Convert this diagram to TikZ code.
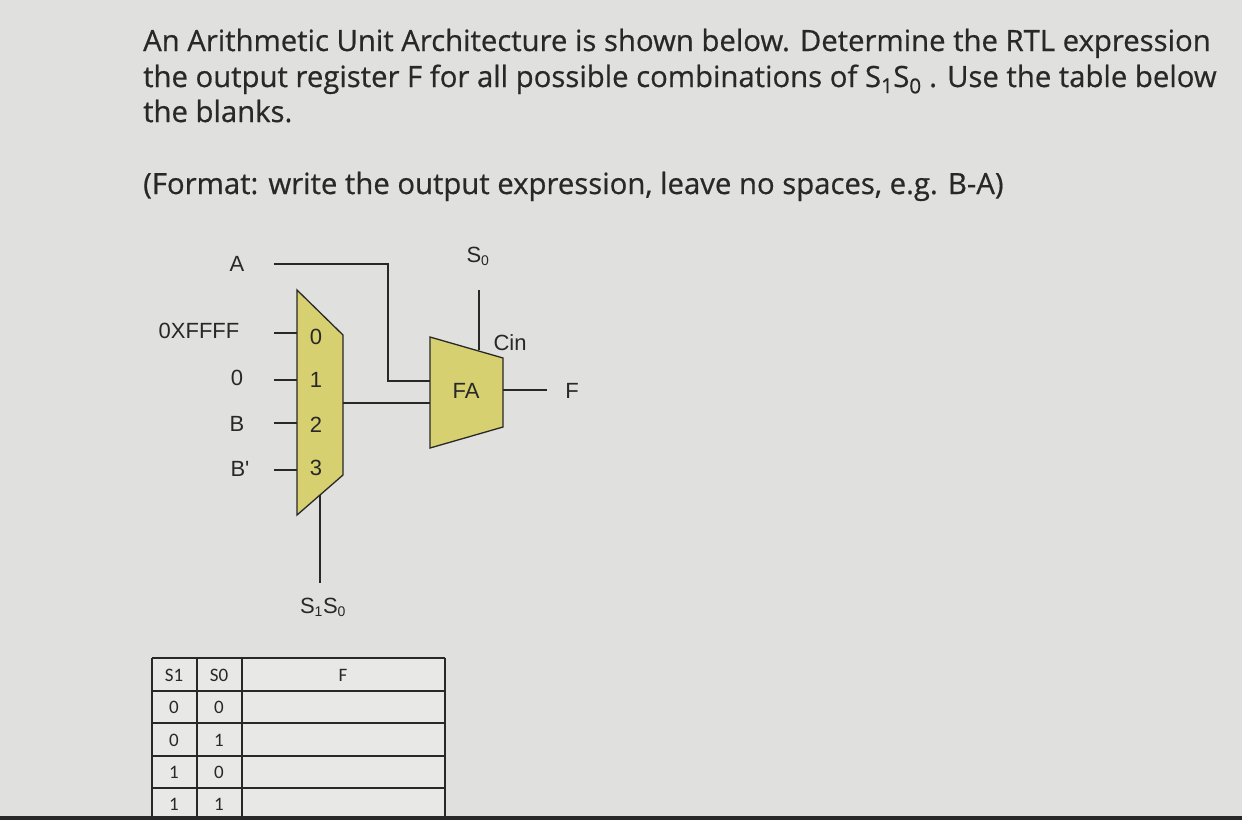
\documentclass[tikz,border=0pt]{standalone}
\usepackage{fontspec}
\setmainfont{Open Sans}[FakeBold=0.6]
\newfontfamily\arialf{Liberation Sans}
\newfontfamily\calf{Carlito}
\definecolor{bg}{RGB}{224,224,222}
\definecolor{ylw}{RGB}{214,208,112}
\definecolor{ink}{RGB}{40,40,40}
\begin{document}
\begin{tikzpicture}[x=1pt,y=-1pt,
  wire/.style={draw=ink,line width=1.3pt},
  lbl/.style={font=\arialf\fontsize{22}{24}\selectfont,text=ink,inner sep=0pt},
  qtext/.style={font=\fontsize{29.3}{32}\selectfont,text=ink,anchor=base west,inner sep=0pt},
  tcell/.style={font=\calf\fontsize{19}{21}\selectfont,text=ink,inner sep=0pt}]
\useasboundingbox (0,0) rectangle (1242,820);
\clip (0,0) rectangle (1242,820);
\fill[bg] (0,0) rectangle (1242,820);
\node[qtext] (q1) at (143,51) {An Arithmetic Unit Architecture is shown below. Determine the RTL expression};
\node[qtext] (q2) at (143,87) {the output register F for all possible combinations of S\textsubscript{1}S\textsubscript{0} . Use the table below};
\node[qtext] (q3) at (143,122) {the blanks.};
\node[qtext] (q4) at (143,194) {(Format: write the output expression, leave no spaces, e.g. B-A)};
% mux
\filldraw[fill=ylw,draw=ink,line width=1.3pt] (297,290) -- (343,335) -- (343,475) -- (297,515) -- cycle;
\filldraw[fill=ylw,draw=ink,line width=1.3pt] (430,337) -- (503,358) -- (503,427) -- (430,448) -- cycle;
\node[lbl] (fa) at (466,391) {FA};
\node[lbl] (cin) at (510,343) {Cin};
\foreach \n/\y in {0/337,1/380,2/425,3/468}{\node[lbl] (mn\n) at (316,\y) {\n};}
\node[lbl] (la) at (237,264) {A};
\node[lbl] (lff) at (199,331) {0XFFFF};
\node[lbl] (l0) at (237,378) {0};
\node[lbl] (lb) at (237,424) {B};
\node[lbl] (lbp) at (240,469) {B'};
\node[lbl] (ls0) at (478,256) {S\textsubscript{\fontsize{14}{14}\selectfont 0}};
\node[lbl] (lsel) at (323,607) {S\textsubscript{\fontsize{14}{14}\selectfont 1}S\textsubscript{\fontsize{14}{14}\selectfont 0}};
\node[lbl] (lf) at (572,391) {F};
\draw[wire] (274,264) -- (388,264) -- (388,381) -- (430,381);
\draw[wire] (274,333) -- (297,333);
\draw[wire] (274,380) -- (297,380);
\draw[wire] (274,423) -- (297,423);
\draw[wire] (274,470) -- (297,470);
\draw[wire] (343,403) -- (430,403);
\draw[wire] (320,495) -- (320,583);
\draw[wire] (479,290) -- (479,350);
\draw[wire] (503,390) -- (547,390);
% table
\fill[white!25!bg] (152,658) rectangle (445,820);
\foreach \y in {658,691,723,756,788}{\draw[ink,line width=1.2pt] (152,\y) -- (445,\y);}
\foreach \x in {152,197,242,445}{\draw[ink,line width=1.2pt] (\x,658) -- (\x,820);}
\node[tcell] (h1) at (174,675) {S1};
\node[tcell] (h2) at (219,675) {S0};
\node[tcell] (h3) at (343,675) {F};
\foreach \a/\b/\y in {0/0/707,0/1/740,1/0/772,1/1/804}{
  \node[tcell] at (174,\y) {\a}; \node[tcell] at (219,\y) {\b};}
\fill[ink] (0,816) rectangle (1242,820);
\end{tikzpicture}
\end{document}
